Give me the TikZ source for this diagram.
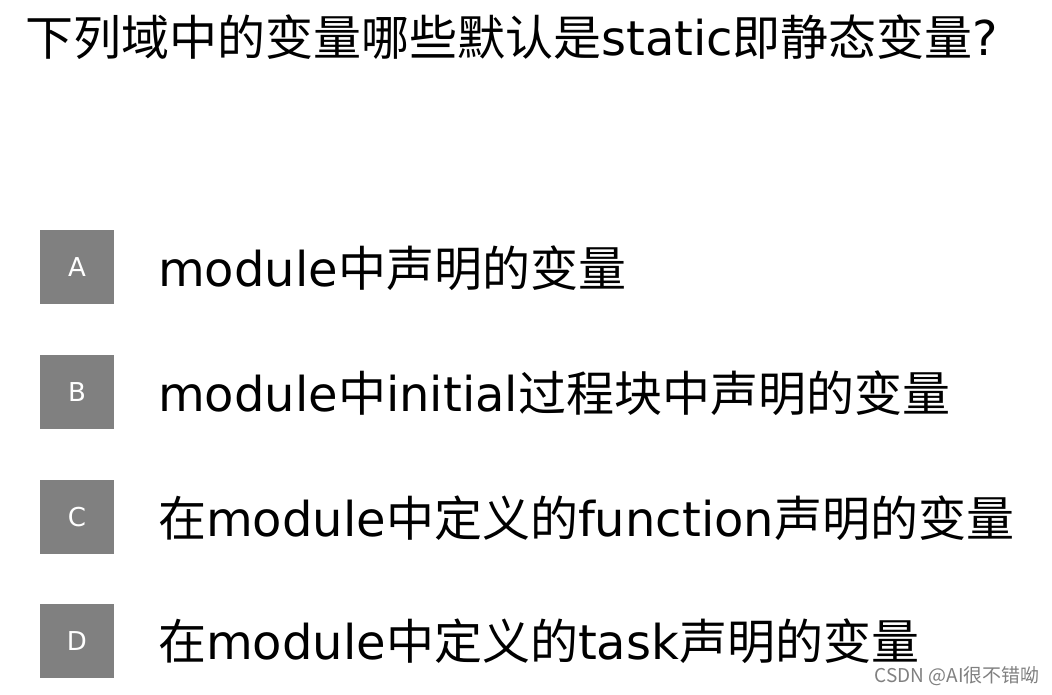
\documentclass[tikz,border=0pt]{standalone}
\usepackage{fontspec}
\setmainfont{Noto Sans CJK SC}
\newfontfamily\lat{DejaVu Sans}
\newcommand{\lw}[1]{{\lat #1}}
\definecolor{boxgray}{HTML}{808080}
\begin{document}
\begin{tikzpicture}[x=1pt,y=-1pt,
  letterbox/.style={fill=boxgray,minimum width=74pt,minimum height=74pt,inner sep=0pt,text=white,font=\lat\fontsize{26}{28}\selectfont},
  opt/.style={anchor=west,inner sep=0pt,font=\fontsize{48}{52}\selectfont}]
\useasboundingbox (0,0) rectangle (1052,694);
\node[anchor=west,inner sep=0pt,font=\fontsize{48}{52}\selectfont] (title) at (25,37) {下列域中的变量哪些默认是\lw{static}即静态变量\lw{?}};
\node[letterbox] (A) at (77,267) {A};
\node[letterbox] (B) at (77,392) {B};
\node[letterbox] (C) at (77,517) {C};
\node[letterbox] (D) at (77,641) {D};
\node[opt] (ta) at (158,268) {\lw{module}中声明的变量};
\node[opt] (tb) at (158,393) {\lw{module}中\lw{initial}过程块中声明的变量};
\node[opt] (tc) at (158,518) {在\lw{module}中定义的\lw{function}声明的变量};
\node[opt] (td) at (158,641) {在\lw{module}中定义的\lw{task}声明的变量};
\node[anchor=east,inner sep=0pt,text=gray,font=\fontsize{19}{21}\selectfont] (wm) at (1040,676) {CSDN @AI很不错呦};
\end{tikzpicture}
\end{document}
